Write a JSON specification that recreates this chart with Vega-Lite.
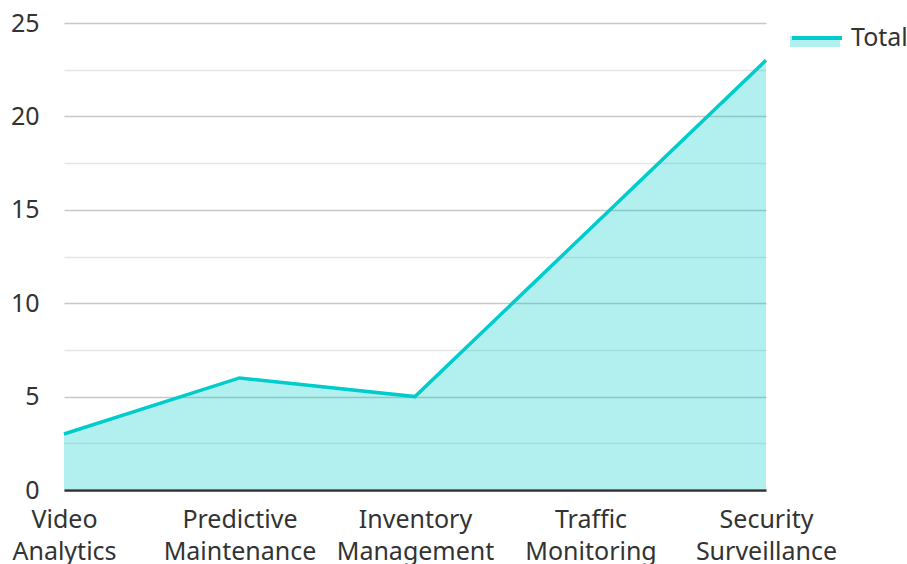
{
  "$schema": "https://vega.github.io/schema/vega-lite/v6.json",
  "width": 702,
  "height": 467,
  "autosize": {"type": "none"},
  "padding": {"left": 64, "top": 23, "right": 141, "bottom": 74},
  "config": {"font": "Noto Sans", "view": {"stroke": null}},
  "data": {
    "values": [
      {"category": "Video Analytics", "value": 3, "series": "Total"},
      {"category": "Predictive Maintenance", "value": 6, "series": "Total"},
      {"category": "Inventory Management", "value": 5, "series": "Total"},
      {"category": "Traffic Monitoring", "value": 14, "series": "Total"},
      {"category": "Security Surveillance", "value": 23, "series": "Total"}
    ]
  },
  "encoding": {
    "x": {
      "field": "category", "type": "nominal", "sort": null,
      "scale": {"type": "point", "padding": 0},
      "axis": {
        "title": null, "labelAngle": 0, "labelFontSize": 25, "labelColor": "#333333",
        "labelExpr": "split(datum.label, ' ')", "labelLineHeight": 32,
        "labelBaseline": "top", "labelPadding": 17, "ticks": false, "grid": false,
        "domainColor": "#333333", "domainWidth": 2.5, "labelOverlap": false, "labelBound": false
      }
    },
    "y": {
      "field": "value", "type": "quantitative",
      "scale": {"domain": [0, 25], "nice": false},
      "axis": {
        "title": null, "values": [0, 2.5, 5, 7.5, 10, 12.5, 15, 17.5, 20, 22.5, 25],
        "labelExpr": "datum.value % 5 === 0 ? datum.label : ''",
        "labelFontSize": 25, "labelColor": "#333333", "labelPadding": 25,
        "ticks": false, "domain": false, "grid": true, "gridWidth": 1.5,
        "gridColor": {"condition": {"test": "datum.value % 5 === 0", "value": "#c8c8c8"}, "value": "#e6e6e6"}
      }
    }
  },
  "layer": [
    {
      "mark": {"type": "area", "fillOpacity": 0.3},
      "encoding": {
        "fill": {
          "field": "series", "type": "nominal",
          "scale": {"domain": ["Total"], "range": ["#00cccc"]},
          "legend": {
            "orient": "none", "legendX": 726, "legendY": -12, "title": null,
            "symbolType": "M-1,0H1V0.44H-1Z", "symbolSize": 2500, "symbolOpacity": 0.3,
            "symbolStrokeWidth": 0, "labelFontSize": 25, "labelExpr": "''", "labelOffset": 7
          }
        }
      }
    },
    {
      "mark": {"type": "line", "strokeWidth": 3.5},
      "encoding": {
        "stroke": {
          "field": "series", "type": "nominal",
          "scale": {"range": ["#00cccc"]},
          "legend": {
            "orient": "none", "legendX": 726, "legendY": -12, "title": null,
            "symbolType": "stroke", "symbolSize": 2500, "symbolStrokeWidth": 4,
            "labelFontSize": 25, "labelColor": "#333333", "labelOffset": 7
          }
        }
      }
    }
  ]
}
